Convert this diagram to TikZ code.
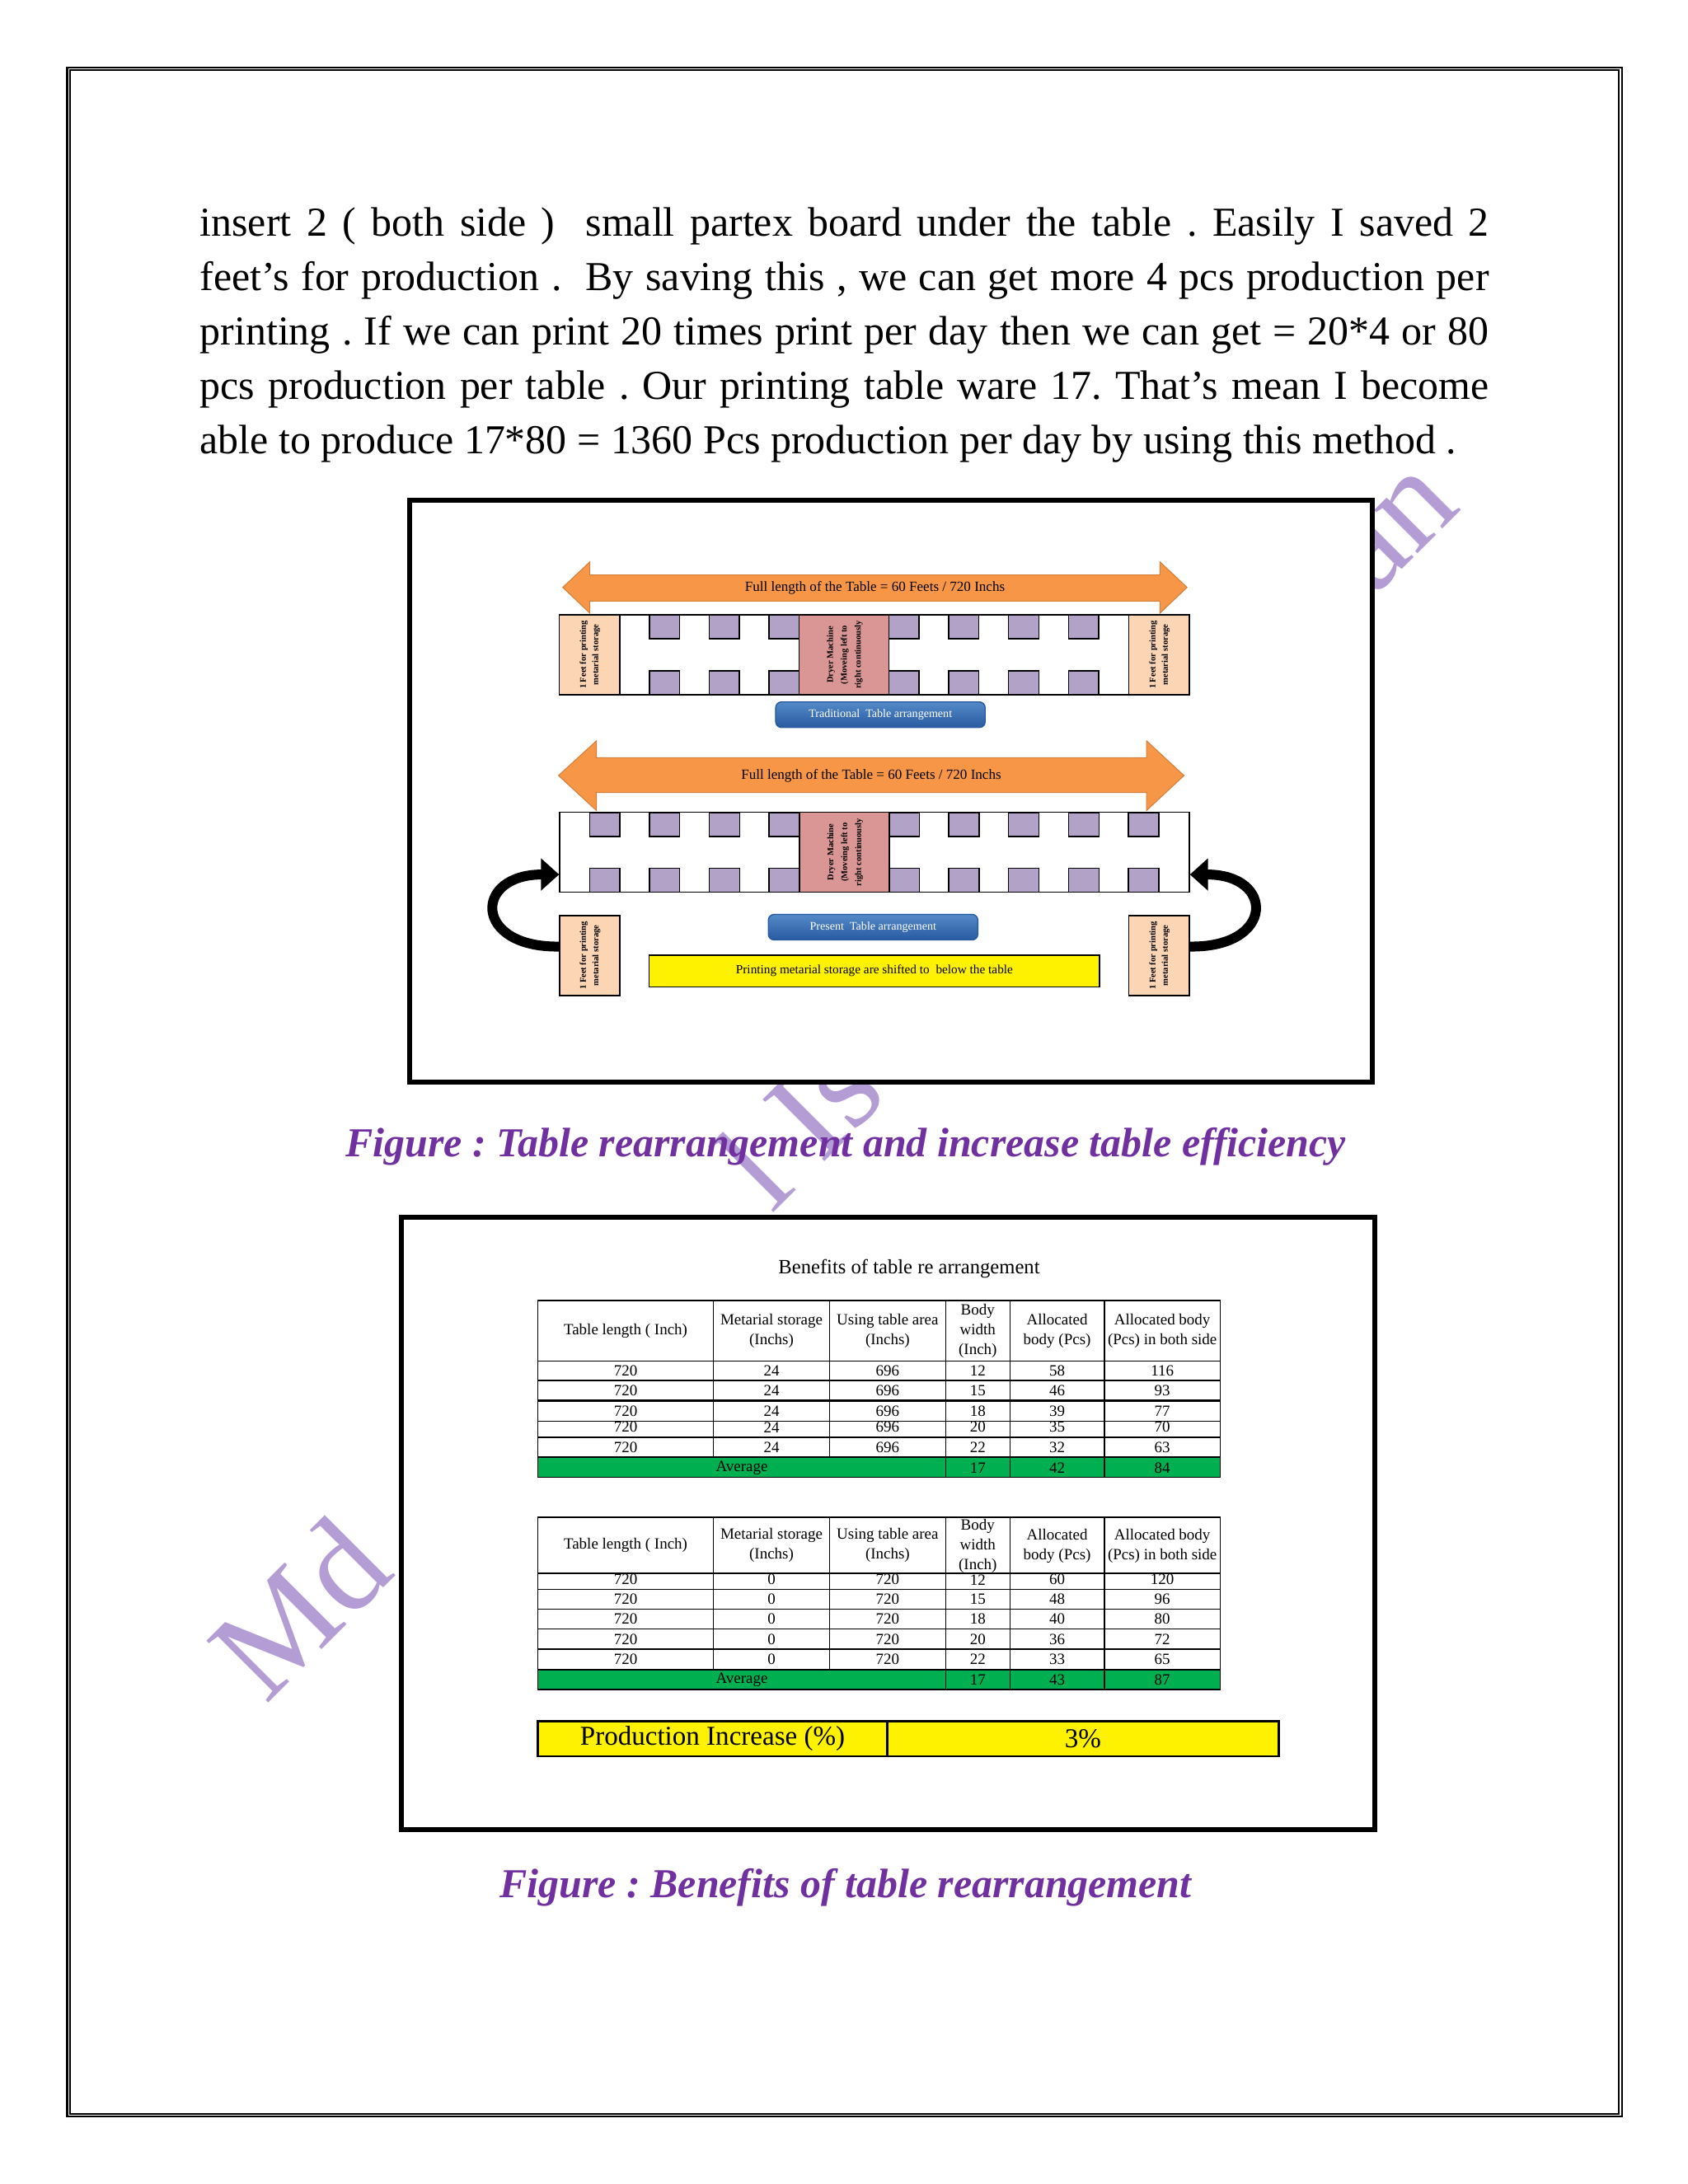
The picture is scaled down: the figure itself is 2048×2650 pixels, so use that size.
\documentclass[tikz,border=0pt]{standalone}
\usepackage{fontspec}
\setmainfont{Liberation Serif}
\usepackage{graphicx}
\usetikzlibrary{positioning, arrows.meta}
\frenchspacing

\definecolor{shaftorange}{RGB}{247,150,70}
\definecolor{peach}{RGB}{252,213,181}
\definecolor{lilac}{RGB}{179,162,199}
\definecolor{dryerred}{RGB}{217,150,148}
\definecolor{labelblue}{RGB}{84,138,200}
\definecolor{labelblue2}{RGB}{40,90,160}
\definecolor{avggreen}{RGB}{0,176,80}
\definecolor{capurple}{RGB}{112,48,160}
\definecolor{markpurple}{RGB}{180,157,213}

\newcommand{\sidetext}[1]{\rotatebox{90}{\begin{tabular}{@{}c@{}}#1\end{tabular}}}

\begin{document}
\begin{tikzpicture}[x=0.01cm, y=-0.01cm,
  frame/.style={draw, line width=1.9pt, fill=white},
  para/.style={anchor=base west, inner sep=0pt, font=\fontsize{14.2}{18.8}\selectfont},
  caption/.style={text=capurple, inner sep=0pt, font=\fontsize{14.2}{17}\selectfont\bfseries\itshape},
  wmark/.style={text=markpurple, rotate=45, anchor=base west, inner sep=0pt, font=\fontsize{46}{46}\selectfont},
  orangearrow/.style={fill=shaftorange, draw=shaftorange!85!black, line width=0.3pt},
  arrowtext/.style={inner sep=0pt, font=\fontsize{4.85}{5.5}\selectfont},
  strip/.style={draw, fill=white, minimum width=7.635cm, minimum height=0.97cm, inner sep=0pt},
  store/.style={draw, fill=peach, minimum width=0.73cm, minimum height=0.97cm, inner sep=0pt,
                font=\fontsize{3.0}{4.3}\selectfont\bfseries},
  dryer/.style={draw, fill=dryerred, minimum width=1.086cm, minimum height=0.97cm, inner sep=0pt,
                font=\fontsize{3.0}{4.8}\selectfont\bfseries},
  sq/.style={draw, fill=lilac, line width=0.4pt},
  tag/.style={rounded corners=2pt, top color=labelblue, bottom color=labelblue2, draw=labelblue2,
              text=white, minimum width=2.54cm, minimum height=0.31cm, inner sep=0pt,
              font=\fontsize{4}{5}\selectfont},
  curvearrow/.style={line width=0.12cm, -{Triangle[length=0.22cm, width=0.38cm]}},
  tline/.style={line width=0.45pt},
  cell/.style={inner sep=0pt, align=center, font=\fontsize{5.4}{6.8}\selectfont},
  prod/.style={draw, line width=0.8pt, fill=yellow, minimum height=0.427cm, inner sep=0pt,
               font=\fontsize{9.4}{10}\selectfont}]

\useasboundingbox (0,0) rectangle (2048,2650);
\fill[white] (0,0) rectangle (2048,2650);

% page border
\draw[line width=0.02cm] (81.5,81.5) rectangle (1967.5,2568);
\draw[line width=0.014cm] (85,85) rectangle (1964,2565);

% text
\node[para] (line1) at (242,286.7) {\makebox[15.63cm][s]{insert 2 ( both side ) \ small partex board under the table . Easily I saved 2}};
\node[para] (line2) at (242,352.6) {\makebox[15.63cm][s]{feet’s for production . \ By saving this , we can get more 4 pcs production per}};
\node[para] (line3) at (242,418.5) {\makebox[15.63cm][s]{printing . If we can print 20 times print per day then we can get = 20*4 or 80}};
\node[para] (line4) at (242,484.4) {\makebox[15.63cm][s]{pcs production per table . Our printing table ware 17. That’s mean I become}};
\node[para] (line5) at (242,550.3) {able to produce 17*80 = 1360 Pcs production per day by using this method .};

% watermark
\node[wmark] (wm1) at (322,2070) {Md};
\node[wmark] (wm2) at (936,1474) {l Is};
\node[wmark] (wm3) at (1666,726) {an};

% figure 1
\draw[frame] (497,607) rectangle (1665,1313);

\draw[orangearrow] (682.8,712.7) -- (715.7,681.7) -- (715.7,697.7) -- (1407.3,697.7) -- (1407.3,681.7)
  -- (1440.2,712.7) -- (1407.3,744) -- (1407.3,729.3) -- (715.7,729.3) -- (715.7,744) -- cycle;
\node[arrowtext] (len1) at (1061.5,713) {Full length of the Table = 60 Feets / 720 Inchs};

\node[strip] (tbl1) at (1060.75,794.5) {};
\foreach \k in {1,2,3,5,6,7,8} {
  \draw[sq] ({715.2+72.65*\k},746.5) rectangle +(36.5,28.5);
  \draw[sq] ({715.2+72.65*\k},843) rectangle +(36.5,-29);
}
\node[dryer] (dry1) at (1024,794.5) {\sidetext{Dryer Machine\\(Moveing left to\\right continuously}};
\node[store] (ls1) at (715.3,794.5) {\sidetext{1 Feet for printing\\metarial storage}};
\node[store] (rs1) at (1406.3,794.5) {\sidetext{1 Feet for printing\\metarial storage}};
\node[tag] (trad) at (1068.2,867.2) {Traditional \ Table arrangement};

\draw[orangearrow] (677.6,941) -- (723.5,899) -- (723.5,919.3) -- (1391.2,919.3) -- (1391.2,899)
  -- (1436.5,941) -- (1391.2,983.3) -- (1391.2,961.7) -- (723.5,961.7) -- (723.5,983.3) -- cycle;
\node[arrowtext] (len2) at (1057,941.7) {Full length of the Table = 60 Feets / 720 Inchs};

\node[strip] (tbl2) at (1061,1034) {};
\foreach \k in {0,1,2,3,5,6,7,8,9} {
  \draw[sq] ({715.2+72.65*\k},986) rectangle +(36.8,29);
  \draw[sq] ({715.2+72.65*\k},1082.3) rectangle +(36.8,-29);
}
\node[dryer] (dry2) at (1024.5,1034) {\sidetext{Dryer Machine\\(Moveing left to\\right continuously}};
\node[store] (ls2) at (715.5,1159.4) {\sidetext{1 Feet for printing\\metarial storage}};
\node[store] (rs2) at (1406.3,1159.4) {\sidetext{1 Feet for printing\\metarial storage}};
\node[tag] (pres) at (1059.3,1125) {Present \ Table arrangement};
\node[draw, fill=yellow, minimum width=5.46cm, minimum height=0.383cm, inner sep=0pt,
      font=\fontsize{4.35}{5}\selectfont] (shift) at (1060.9,1178.2)
      {Printing metarial storage are shifted to \ below the table};

\draw[curvearrow] ([yshift=3.1pt]ls2.west) .. controls (574,1150) and (574,1061) .. ([yshift=-7.7pt]tbl2.west);
\draw[curvearrow] ([yshift=3.1pt]rs2.east) .. controls (1547,1150) and (1547,1061) .. ([yshift=-7.7pt]tbl2.east);

\node[caption] (cap1) at (1026,1391) {Figure : Table rearrangement and increase table efficiency};

% figure 2
\draw[frame] (487,1477) rectangle (1668,2220);
\node[inner sep=0pt, font=\fontsize{7}{8}\selectfont] (title) at (1103,1539) {Benefits of table re arrangement};

% first table
\fill[avggreen] (652.3,1767.7) rectangle (1480.6,1792.3);
\draw[tline] (652.3,1577.7) rectangle (1480.6,1792.3);
\foreach \y in {1651.3,1675,1724.3,1744,1767.7} \draw[tline] (652.3,\y) -- (1480.6,\y);
\draw[line width=0.9pt] (652.3,1699.3) -- (1480.6,1699.3);
\foreach \x in {865.6,1006.4} \draw[tline] (\x,1577.7) -- (\x,1767.7);
\foreach \x in {1147.3,1225.3,1339.8} \draw[tline] (\x,1577.7) -- (\x,1792.3);

\node[cell] (ha1) at (759,1615) {Table length ( Inch)};
\node[cell] (ha2) at (936,1615) {Metarial storage\\(Inchs)};
\node[cell] (ha3) at (1076.9,1615) {Using table area\\(Inchs)};
\node[cell] (ha4) at (1186.3,1615) {Body\\width\\(Inch)};
\node[cell] (ha5) at (1282.6,1615) {Allocated\\body (Pcs)};
\node[cell] (ha6) at (1410.2,1615) {Allocated body\\(Pcs) in both side};
\foreach \y/\a/\b/\c/\d/\e/\f [count=\r] in {1663.5/720/24/696/12/58/116, 1687.5/720/24/696/15/46/93,
    1712/720/24/696/18/39/77, 1731.7/720/24/696/20/35/70, 1756/720/24/696/22/32/63} {
  \node[cell] (ta\r-1) at (759,\y) {\a};
  \node[cell] (ta\r-2) at (936,\y) {\b};
  \node[cell] (ta\r-3) at (1076.9,\y) {\c};
  \node[cell] (ta\r-4) at (1186.3,\y) {\d};
  \node[cell] (ta\r-5) at (1282.6,\y) {\e};
  \node[cell] (ta\r-6) at (1410.2,\y) {\f};
}
\node[cell] (avga) at (900,1781.5) {Average};
\node[cell] (avga4) at (1186.3,1781.5) {17};
\node[cell] (avga5) at (1282.6,1781.5) {42};
\node[cell] (avga6) at (1410.2,1781.5) {84};

% second table
\fill[avggreen] (652.3,2025.7) rectangle (1480.6,2050);
\draw[tline] (652.3,1841) rectangle (1480.6,2050);
\foreach \y in {1908.7,1928.3,1952.3,1976.3,2001,2025.7} \draw[tline] (652.3,\y) -- (1480.6,\y);
\foreach \x in {865.6,1006.4} \draw[tline] (\x,1841) -- (\x,2025.7);
\foreach \x in {1147.3,1225.3,1339.8} \draw[tline] (\x,1841) -- (\x,2050);

\node[cell] (hb1) at (759,1875) {Table length ( Inch)};
\node[cell] (hb2) at (936,1875) {Metarial storage\\(Inchs)};
\node[cell] (hb3) at (1076.9,1875) {Using table area\\(Inchs)};
\node[cell] (hb4) at (1186.3,1876) {Body\\width\\(Inch)};
\node[cell] (hb5) at (1282.6,1875.5) {Allocated\\body (Pcs)};
\node[cell] (hb6) at (1410.2,1875.5) {Allocated body\\(Pcs) in both side};
\foreach \y/\a/\b/\c/\d/\e/\f [count=\r] in {1916.7/720/0/720/12/60/120, 1940/720/0/720/15/48/96,
    1964/720/0/720/18/40/80, 1989.3/720/0/720/20/36/72, 2013.3/720/0/720/22/33/65} {
  \node[cell] (tb\r-1) at (759,\y) {\a};
  \node[cell] (tb\r-2) at (936,\y) {\b};
  \node[cell] (tb\r-3) at (1076.9,\y) {\c};
  \node[cell] (tb\r-4) at (1186.3,\y) {\d};
  \node[cell] (tb\r-5) at (1282.6,\y) {\e};
  \node[cell] (tb\r-6) at (1410.2,\y) {\f};
}
\node[cell] (avgb) at (900,2038) {Average};
\node[cell] (avgb4) at (1186.3,2038) {17};
\node[cell] (avgb5) at (1282.6,2038) {43};
\node[cell] (avgb6) at (1410.2,2038) {87};

\node[prod, minimum width=4.243cm] (prodl) at (864.5,2109.7) {Production Increase (\%)};
\node[prod, minimum width=4.744cm] (prodr) at (1313.8,2109.7) {3\%};

\node[caption] (cap2) at (1026,2290) {Figure : Benefits of table rearrangement};
\end{tikzpicture}
\end{document}
